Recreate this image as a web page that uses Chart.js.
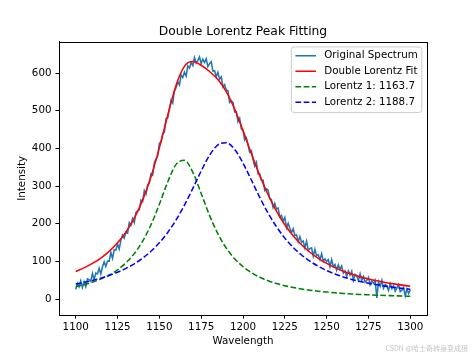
<!DOCTYPE html>
<html><head><meta charset="utf-8">
<script src="https://cdn.jsdelivr.net/npm/chart.js@4"></script>
<style>html,body{margin:0;padding:0;background:#fff;}canvas{display:block;}</style>
</head><body>
<canvas id="c" width="474" height="355"></canvas>
<script>
const wavelengths = [1100,1101,1102,1103,1104,1105,1106,1107,1108,1109,1110,1111,1112,1113,1114,1115,1116,1117,1118,1119,
1120,1121,1122,1123,1124,1125,1126,1127,1128,1129,1130,1131,1132,1133,1134,1135,1136,1137,1138,1139,
1140,1141,1142,1143,1144,1145,1146,1147,1148,1149,1150,1151,1152,1153,1154,1155,1156,1157,1158,1159,
1160,1161,1162,1163,1164,1165,1166,1167,1168,1169,1170,1171,1172,1173,1174,1175,1176,1177,1178,1179,
1180,1181,1182,1183,1184,1185,1186,1187,1188,1189,1190,1191,1192,1193,1194,1195,1196,1197,1198,1199,
1200,1201,1202,1203,1204,1205,1206,1207,1208,1209,1210,1211,1212,1213,1214,1215,1216,1217,1218,1219,
1220,1221,1222,1223,1224,1225,1226,1227,1228,1229,1230,1231,1232,1233,1234,1235,1236,1237,1238,1239,
1240,1241,1242,1243,1244,1245,1246,1247,1248,1249,1250,1251,1252,1253,1254,1255,1256,1257,1258,1259,
1260,1261,1262,1263,1264,1265,1266,1267,1268,1269,1270,1271,1272,1273,1274,1275,1276,1277,1278,1279,
1280,1281,1282,1283,1284,1285,1286,1287,1288,1289,1290,1291,1292,1293,1294,1295,1296,1297,1298,1299,1300];
const spectrum = [26,42,33,49,31, 46,33,54,52,47, 68,52,69,67,82, 67,86,99,87,101,
101,124,108,131,130, 146,133,157,170,162, 178,175,203,196,214, 203,230,234,237,263,
259,288,279,303,308, 333,329,362,372,379, 414,417,440,443,479, 481,505,528,520,552,
561,577,568,595,588, 602,592,619,613,628, 620,641,626,633,643, 625,637,628,638,617,
625,630,605,606,590, 602,584,590,563,569, 555,553,522,526,522, 497,497,471,480,452,
448,422,428,409,390, 394,371,353,363,332, 332,315,316,288,293, 289,266,265,243,254,
239,242,218,222,207, 217,189,201,188,177, 187,169,171,152,166, 151,154,136,154,130,
134,136,114,132,115, 118,105,121,101,107, 100,105,86,105,86, 92,77,91,79,88,
69,75,61,75,64, 74,50,66,62,50, 67,50,60,45,50, 58,38,48,42,50,
3,46,34,50,29, 39,35,23,41,28, 35,21,30,39,20, 24,31,9,27,15, 25];
const curveX = [1100,1105,1110,1115,1120,1125,1130,1135,1140,1145,1150,1155,1160,1165,1170,1175,1180,1185,1190,1195,
1200,1205,1210,1215,1220,1225,1230,1235,1240,1245,1250,1255,1260,1265,1270,1275,1280,1285,1290,1295,1300];
const fitCurve = [73.4,83.1,94.8,109.1,127.0,149.5,178.0,214.8,262.8,324.6,401.4,488.1,567.9,617.8,630.4,620.6,604.0,582.7,550.8,504.6,
447.4,386.4,328.4,277.1,233.7,197.6,168.2,144.2,124.5,108.4,94.9,83.7,74.3,66.4,59.6,53.8,48.7,44.4,40.6,37.3,34.3];
const lorentz1 = [33.2,38.5,45.1,53.4,64.1,78.0,96.4,120.9,153.9,197.4,251.8,311.1,357.7,368.4,336.6,280.5,222.3,173.4,135.6,107.3,
86.2,70.3,58.2,48.8,41.5,35.6,30.9,27.0,23.8,21.1,18.9,16.9,15.3,13.9,12.6,11.6,10.6,9.8,9.1,8.4,7.8];
const lorentz2 = [40.2,44.6,49.7,55.7,62.9,71.5,81.6,93.9,108.9,127.2,149.6,177.0,210.2,249.4,293.8,340.1,381.7,409.3,415.2,397.3,
361.2,316.1,270.2,228.3,192.2,162.0,137.3,117.2,100.7,87.3,76.0,66.8,59.0,52.5,47.0,42.2,38.1,34.6,31.5,28.9,26.5];
const xTicks = [1100,1125,1150,1175,1200,1225,1250,1275,1300];
const yTicks = [0,100,200,300,400,500,600];
const seriesNames = ['Original Spectrum','Double Lorentz Fit','Lorentz 1: 1163.7','Lorentz 2: 1188.7'];
const seriesColors = ['#1f77b4','#ff0000','#008000','#0000ff'];

const FONT = "'DejaVu Sans', sans-serif";
const FS = 10.3;
const LW = 1.54;
const DASH = [5.7, 2.5];
const toPts = (xs, ys) => xs.map((x, i) => ({x: x, y: ys[i]}));

const framePlugin = {
  id: 'frame',
  afterDatasetsDraw(chart) {
    const a = chart.chartArea, ctx = chart.ctx;
    ctx.save();
    ctx.strokeStyle = '#000';
    ctx.lineWidth = 1;
    ctx.strokeRect(Math.round(a.left) + 0.5, Math.round(a.top) + 0.5,
                   Math.round(a.right) - Math.round(a.left), Math.round(a.bottom) - Math.round(a.top));
    ctx.restore();
  }
};

const legendPlugin = {
  id: 'inlegend',
  afterDraw(chart) {
    const a = chart.chartArea, ctx = chart.ctx;
    ctx.save();
    ctx.font = FS + 'px ' + FONT;
    let tw = 0;
    seriesNames.forEach(n => { tw = Math.max(tw, ctx.measureText(n).width); });
    const pad = 4.1, handle = 20.6, gap = 8.2, pitch = 15.5;
    const right = a.right - 5.2;
    const left = right - (pad + handle + gap + tw + pad);
    const top = a.top + 5.2;
    const bottom = top + 8.8 + pitch * (seriesNames.length - 1) + 10.2;
    const r = 2.5;
    ctx.beginPath();
    ctx.moveTo(left + r, top);
    ctx.lineTo(right - r, top); ctx.quadraticCurveTo(right, top, right, top + r);
    ctx.lineTo(right, bottom - r); ctx.quadraticCurveTo(right, bottom, right - r, bottom);
    ctx.lineTo(left + r, bottom); ctx.quadraticCurveTo(left, bottom, left, bottom - r);
    ctx.lineTo(left, top + r); ctx.quadraticCurveTo(left, top, left + r, top);
    ctx.closePath();
    ctx.fillStyle = 'rgba(255,255,255,0.8)';
    ctx.fill();
    ctx.strokeStyle = '#cccccc';
    ctx.lineWidth = 1;
    ctx.stroke();
    seriesNames.forEach((n, i) => {
      const y = top + 8.8 + pitch * i;
      ctx.beginPath();
      ctx.setLineDash(i >= 2 ? DASH : []);
      ctx.strokeStyle = seriesColors[i];
      ctx.lineWidth = LW;
      ctx.moveTo(left + pad, y);
      ctx.lineTo(left + pad + handle, y);
      ctx.stroke();
      ctx.setLineDash([]);
      ctx.fillStyle = '#000';
      ctx.textBaseline = 'middle';
      ctx.textAlign = 'left';
      ctx.fillText(n, left + pad + handle + gap, y);
    });
    // watermark
    ctx.font = "7px 'Noto Sans CJK SC', sans-serif";
    ctx.fillStyle = '#c4c4c4';
    ctx.textAlign = 'right';
    ctx.textBaseline = 'middle';
    ctx.fillText('CSDN @哈士奇转身变成狼', 468, 348);
    ctx.restore();
  }
};

Chart.defaults.font.family = FONT;
Chart.defaults.color = '#000';

new Chart(document.getElementById('c'), {
  type: 'line',
  data: {
    datasets: [
      {label: seriesNames[0], data: toPts(wavelengths, spectrum), borderColor: seriesColors[0], borderWidth: LW, pointRadius: 0, tension: 0, order: 4},
      {label: seriesNames[1], data: toPts(curveX, fitCurve), borderColor: seriesColors[1], borderWidth: LW, pointRadius: 0, cubicInterpolationMode: 'monotone', order: 3},
      {label: seriesNames[2], data: toPts(curveX, lorentz1), borderColor: seriesColors[2], borderWidth: LW, borderDash: DASH, pointRadius: 0, cubicInterpolationMode: 'monotone', order: 2},
      {label: seriesNames[3], data: toPts(curveX, lorentz2), borderColor: seriesColors[3], borderWidth: LW, borderDash: DASH, pointRadius: 0, cubicInterpolationMode: 'monotone', order: 1}
    ]
  },
  options: {
    responsive: false,
    animation: false,
    devicePixelRatio: 1,
    layout: {padding: {left: 0, right: 47, top: 0, bottom: 0}},
    plugins: {
      legend: {display: false},
      tooltip: {enabled: false},
      title: {display: true, text: 'Double Lorentz Peak Fitting', fullSize: false, color: '#000',
              font: {size: 12.3, weight: 'normal', family: FONT, lineHeight: 1.2}, padding: {top: 24, bottom: 3}}
    },
    scales: {
      x: {
        type: 'linear', min: 1090, max: 1310,
        afterBuildTicks: s => { s.ticks = xTicks.map(v => ({value: v})); },
        afterFit: s => { s.height = 40; },
        ticks: {font: {size: FS}, color: '#000', padding: 3, maxRotation: 0, autoSkip: false, callback: v => String(v)},
        grid: {drawOnChartArea: false, drawTicks: true, tickLength: 3.6, color: '#000', lineWidth: 1},
        border: {display: true, color: '#000', width: 1},
        title: {display: true, text: 'Wavelength', color: '#000', font: {size: FS}, padding: {top: 0, bottom: 7}}
      },
      y: {
        type: 'linear', min: -42, max: 683,
        afterBuildTicks: s => { s.ticks = yTicks.map(v => ({value: v})); },
        afterFit: s => { s.width = 59; },
        ticks: {font: {size: FS}, color: '#000', padding: 3.9, autoSkip: false, callback: v => String(v)},
        grid: {drawOnChartArea: false, drawTicks: true, tickLength: 3.6, color: '#000', lineWidth: 1},
        border: {display: true, color: '#000', width: 1},
        title: {display: true, text: 'Intensity', color: '#000', font: {size: FS}, padding: {top: 16.5, bottom: 0}}
      }
    }
  },
  plugins: [framePlugin, legendPlugin]
});
</script>
</body></html>
